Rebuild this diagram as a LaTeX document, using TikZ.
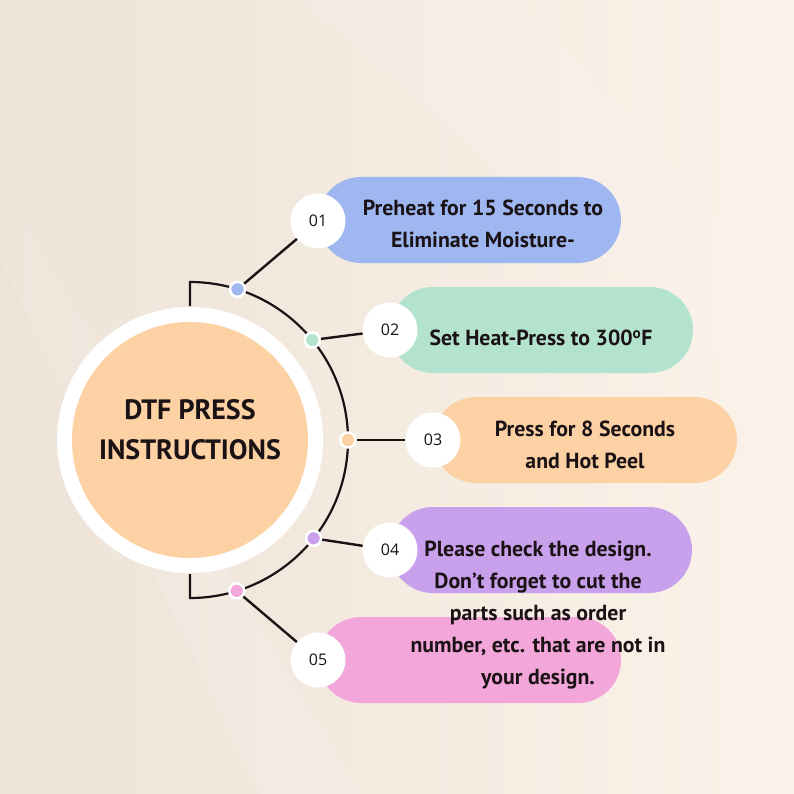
\documentclass[tikz,border=0pt]{standalone}
\usepackage{fontspec}
\setmainfont{PT Sans}
\newfontfamily\numfont{Open Sans}
\definecolor{bgL}{HTML}{EDE3D8}
\definecolor{bgR}{HTML}{FBF2E9}
\definecolor{cblue}{HTML}{9EB7F1}
\definecolor{cgreen}{HTML}{B3E3CE}
\definecolor{cpeach}{HTML}{FCD2A4}
\definecolor{cpurple}{HTML}{C9A0EB}
\definecolor{cpink}{HTML}{F3A6D9}
\definecolor{ink}{HTML}{1A1214}
\begin{document}
\begin{tikzpicture}[x=1pt,y=-1pt,
  pill/.style={rounded corners=43pt},
  numc/.style={circle,fill=white,minimum size=55pt,inner sep=0pt,font=\numfont\fontsize{16}{16}\selectfont,text=ink},
  dotc/.style={circle,draw=white,line width=2.5pt,minimum size=15pt,inner sep=0pt},
  link/.style={line width=2.4pt,draw=ink},
  steptxt/.style={align=center,font=\bfseries\fontsize{21.8}{32}\selectfont,text=ink}]
\useasboundingbox (0,0) rectangle (794,794);
\shade[left color=bgL,right color=bgR] (0,0) rectangle (794,794);
\fill[white,opacity=0.12] (300,0) -- (520,0) -- (794,300) -- (794,420) -- cycle;
\fill[white,opacity=0.1] (0,180) -- (0,260) -- (260,794) -- (360,794) -- cycle;
% pills
\fill[cblue,pill] (318,177) rectangle (621,263);
\fill[cgreen,pill] (390,287) rectangle (693,373);
\fill[cpeach,pill] (433,397) rectangle (737,483);
\fill[cpurple,pill] (390,507) rectangle (692,593);
\fill[cpink,pill] (318,617) rectangle (621,703);
% central circle
\node[circle,fill=white,minimum size=266pt,inner sep=0pt] (ring) at (190,440) {};
\node[circle,fill=cpeach,minimum size=236pt,inner sep=0pt] (hub) at (190,440) {};
\node[align=center,font=\bfseries\fontsize{28}{40}\selectfont,text=ink] (title) at (190,430) {DTF PRESS\\INSTRUCTIONS};
% bracket arc
\draw[link,line width=2.2pt] (190,306) -- (190,282) arc[start angle=-90,end angle=90,radius=158] -- (190,574);
% dots
\node[dotc,fill=cblue] (d1) at (237.5,289.3) {};
\node[dotc,fill=cgreen] (d2) at (312.3,340) {};
\node[dotc,fill=cpeach] (d3) at (348,440) {};
\node[dotc,fill=cpurple] (d4) at (313.6,538.3) {};
\node[dotc,fill=cpink] (d5) at (236.7,590.9) {};
% number circles
\node[numc] (n1) at (318,221) {01};
\node[numc] (n2) at (390,330) {02};
\node[numc] (n3) at (433,440) {03};
\node[numc] (n4) at (390,550) {04};
\node[numc] (n5) at (318,660) {05};
% links
\draw[link] (d1) -- (n1);
\draw[link] (d2) -- (n2);
\draw[link] (d3) -- (n3);
\draw[link] (d4) -- (n4);
\draw[link] (d5) -- (n5);
% texts
\node[steptxt] (t1) at (483,224) {Preheat for 15 Seconds to\\Eliminate Moisture-};
\node[steptxt] (t2) at (541,338) {Set Heat-Press to 300\textsuperscript{o}F};
\node[steptxt] (t3) at (585,445) {Press for 8 Seconds\\and Hot Peel};
\node[steptxt] (t4) at (538,615) {Please check the design.\\Don't forget to cut the\\parts such as order\\number, etc. that are not in\\your design.};
\end{tikzpicture}
\end{document}
